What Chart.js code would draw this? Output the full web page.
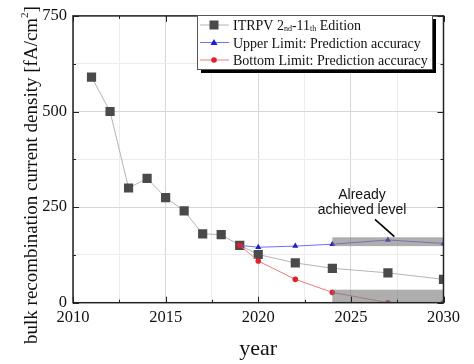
<!DOCTYPE html>
<html>
<head>
<meta charset="utf-8">
<script src="https://cdn.jsdelivr.net/npm/chart.js@4/dist/chart.umd.min.js"></script>
<style>
html,body{margin:0;padding:0;background:#fff;}
#wrap{width:474px;height:364px;}
</style>
</head>
<body>
<div id="wrap"><canvas id="c" width="474" height="364"></canvas></div>
<script>
// ---- data ----
const itrpvYears  = [2011, 2012, 2013, 2014, 2015, 2016, 2017, 2018, 2019, 2020, 2022, 2024, 2027, 2030];
const itrpvValues = [590, 500, 300, 325, 275, 240, 180, 178, 150, 126, 104, 90, 78, 61];
const limitYears   = [2019, 2020, 2022, 2024, 2027, 2030];
const upperValues  = [150, 145, 148, 153, 164, 155];
const bottomValues = [150, 109, 61, 27, 0, 0];
const seriesLabels = ['ITRPV 2nd-11th Edition', 'Upper Limit: Prediction accuracy', 'Bottom Limit: Prediction accuracy'];
const shadeStart = [2024, 2024];
const shadeEnd   = [2030, 2030];
const shadeLow   = [148, 0];
const shadeHigh  = [171, 34];
const noteLines  = ['Already', 'achieved level'];
const noteAt     = [2025.6, 282];
const arrowFrom  = [2026.3, 218];
const arrowTo    = [2027.35, 173];
const xTitle = 'year';
const yTitle = 'bulk recombination current density [fA/cm';

const pts = (xs, ys) => xs.map((x, i) => ({x, y: ys[i]}));
const SERIF = '"Liberation Serif", "Times New Roman", serif';
const SANS = '"Liberation Sans", Arial, sans-serif';

const decor = {
  id: 'decor',
  afterDatasetsDraw(chart) {
    const {ctx, scales: {x, y}, chartArea: a} = chart;
    ctx.save();
    ctx.beginPath();
    ctx.rect(a.left, a.top, a.right - a.left, a.bottom - a.top);
    ctx.clip();
    ctx.fillStyle = 'rgba(120,120,120,0.6)';
    for (let i = 0; i < shadeStart.length; i++) {
      const x0 = x.getPixelForValue(shadeStart[i]), x1 = x.getPixelForValue(shadeEnd[i]);
      const y0 = y.getPixelForValue(shadeHigh[i]), y1 = y.getPixelForValue(shadeLow[i]);
      ctx.fillRect(x0, y0, x1 - x0, y1 - y0);
    }
    ctx.restore();
  },
  afterDraw(chart) {
    const {ctx, scales: {x, y}, chartArea: a} = chart;
    ctx.save();
    // frame
    ctx.strokeStyle = '#222';
    ctx.lineWidth = 1.5;
    ctx.strokeRect(a.left, a.top, a.right - a.left, a.bottom - a.top);
    // inner ticks
    ctx.lineWidth = 1;
    for (const t of x.ticks) {
      const px = Math.round(x.getPixelForValue(t.value)) + 0.5;
      const len = (Math.abs(t.value % 5) < 1e-6) ? 6 : 3;
      ctx.beginPath();
      ctx.moveTo(px, a.bottom); ctx.lineTo(px, a.bottom - len);
      ctx.moveTo(px, a.top); ctx.lineTo(px, a.top + len);
      ctx.stroke();
    }
    for (const t of y.ticks) {
      const py = Math.round(y.getPixelForValue(t.value)) + 0.5;
      const len = (Math.abs(t.value % 250) < 1e-6) ? 6 : 3;
      ctx.beginPath();
      ctx.moveTo(a.left, py); ctx.lineTo(a.left + len, py);
      ctx.moveTo(a.right, py); ctx.lineTo(a.right - len, py);
      ctx.stroke();
    }
    // annotation
    ctx.fillStyle = '#111';
    ctx.font = '14px ' + SANS;
    ctx.textAlign = 'center';
    ctx.textBaseline = 'middle';
    const nx = x.getPixelForValue(noteAt[0]);
    const ny = y.getPixelForValue(noteAt[1]);
    ctx.fillText(noteLines[0], nx, ny);
    ctx.fillText(noteLines[1], nx, ny + 15);
    ctx.strokeStyle = '#000';
    ctx.lineWidth = 1.6;
    ctx.beginPath();
    ctx.moveTo(x.getPixelForValue(arrowFrom[0]), y.getPixelForValue(arrowFrom[1]));
    ctx.lineTo(x.getPixelForValue(arrowTo[0]), y.getPixelForValue(arrowTo[1]));
    ctx.stroke();

    // legend
    const lx = 197, ly = 15, lw = 235, lh = 54;
    ctx.fillStyle = '#000';
    ctx.fillRect(lx + 4, ly + 4, lw, lh);
    ctx.fillStyle = '#fff';
    ctx.fillRect(lx, ly, lw, lh);
    ctx.strokeStyle = '#555';
    ctx.lineWidth = 1;
    ctx.strokeRect(lx + 0.5, ly + 0.5, lw, lh);
    const rows = [25, 42.5, 60];
    chart.data.datasets.forEach((ds, i) => {
      const ry = rows[i];
      ctx.strokeStyle = ds.borderColor;
      ctx.lineWidth = 1;
      ctx.beginPath();
      ctx.moveTo(200, ry); ctx.lineTo(229, ry);
      ctx.stroke();
      ctx.fillStyle = ds.pointBackgroundColor;
      if (ds.pointStyle === 'rect') {
        ctx.fillRect(214 - 4.5, ry - 4.5, 9, 9);
      } else if (ds.pointStyle === 'triangle') {
        ctx.beginPath();
        ctx.moveTo(214, ry - 3.5); ctx.lineTo(217.5, ry + 2.5); ctx.lineTo(210.5, ry + 2.5);
        ctx.closePath(); ctx.fill();
      } else {
        ctx.beginPath(); ctx.arc(214, ry, 2.8, 0, Math.PI * 2); ctx.fill();
      }
    });
    ctx.fillStyle = '#111';
    ctx.textAlign = 'left';
    ctx.textBaseline = 'alphabetic';
    const big = '14px ' + SERIF, small = '8px ' + SERIF;
    let tx = 233;
    const by = [30, 47.5, 65];
    const parts = [['ITRPV 2', big, 0], ['nd', small, 1], ['-11', big, 0], ['th', small, 1], [' Edition', big, 0]];
    for (const [s, f, sub] of parts) {
      ctx.font = f;
      ctx.fillText(s, tx, by[0] + (sub ? 1 : 0));
      tx += ctx.measureText(s).width;
    }
    ctx.font = big;
    ctx.fillText(seriesLabels[1], 233, by[1]);
    ctx.fillText(seriesLabels[2], 233, by[2]);

    // axis titles
    ctx.fillStyle = '#111';
    ctx.font = '22px ' + SERIF;
    ctx.textAlign = 'center';
    ctx.textBaseline = 'middle';
    ctx.fillText(xTitle, (a.left + a.right) / 2, 349);

    ctx.translate(32, 175);
    ctx.rotate(-Math.PI / 2);
    ctx.font = '19px ' + SERIF;
    const w1 = ctx.measureText(yTitle).width;
    ctx.font = '11px ' + SERIF;
    const w2 = ctx.measureText('2').width;
    ctx.font = '19px ' + SERIF;
    const w3 = ctx.measureText(']').width;
    const total = w1 + w2 + w3;
    ctx.textAlign = 'left';
    let sx = -total / 2;
    ctx.fillText(yTitle, sx, 0); sx += w1;
    ctx.font = '11px ' + SERIF;
    ctx.fillText('2', sx, -7); sx += w2;
    ctx.font = '19px ' + SERIF;
    ctx.fillText(']', sx, 0);
    ctx.restore();
  }
};

new Chart(document.getElementById('c'), {
  type: 'line',
  data: {
    datasets: [
      {
        label: seriesLabels[0],
        data: pts(itrpvYears, itrpvValues),
        borderColor: '#b4b4b4',
        borderWidth: 1,
        pointStyle: 'rect',
        pointRadius: 6.5,
        pointBorderWidth: 0,
        pointBackgroundColor: '#4a4a4a',
        clip: 0,
        order: 3
      },
      {
        label: seriesLabels[1],
        data: pts(limitYears, upperValues),
        borderColor: '#6f6fff',
        borderWidth: 1,
        pointStyle: 'triangle',
        pointRadius: 3.5,
        pointBorderWidth: 0,
        pointBackgroundColor: '#1c1cc8',
        clip: 0,
        order: 2
      },
      {
        label: seriesLabels[2],
        data: pts(limitYears, bottomValues),
        borderColor: '#f07a7a',
        borderWidth: 1,
        pointStyle: 'circle',
        pointRadius: 2.8,
        pointBorderWidth: 0,
        pointBackgroundColor: '#e0202a',
        clip: 0,
        order: 1
      }
    ]
  },
  options: {
    responsive: false,
    animation: false,
    layout: {padding: {top: 8, right: 30.5, left: 0, bottom: 0}},
    plugins: {legend: {display: false}, tooltip: {enabled: false}},
    scales: {
      x: {
        type: 'linear',
        min: 2010, max: 2030,
        afterFit: s => { s.height = 61.3; },
        border: {display: false},
        grid: {
          drawTicks: false,
          color: c => (Math.abs(c.tick.value % 5) < 1e-6) ? '#d6d6d6' : '#ececec',
          lineWidth: 1
        },
        ticks: {
          stepSize: 2.5,
          padding: 5,
          maxRotation: 0,
          autoSkip: false,
          color: '#111',
          font: {family: SERIF, size: 16.5},
          callback: v => (Math.abs(v % 5) < 1e-6) ? String(v) : ''
        }
      },
      y: {
        min: 0, max: 750,
        afterFit: s => { s.width = 73; },
        border: {display: false},
        grid: {
          drawTicks: false,
          color: c => (Math.abs(c.tick.value % 250) < 1e-6) ? '#d6d6d6' : '#ececec',
          lineWidth: 1
        },
        ticks: {
          stepSize: 125,
          padding: 6,
          autoSkip: false,
          color: '#111',
          font: {family: SERIF, size: 16.5},
          callback: v => (Math.abs(v % 250) < 1e-6) ? String(v) : ''
        }
      }
    }
  },
  plugins: [decor]
});
</script>
</body>
</html>
